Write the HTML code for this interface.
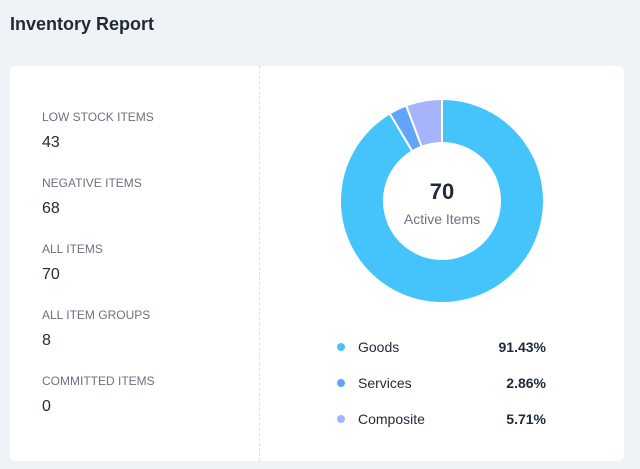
<!DOCTYPE html>
<html><head><style>
body{margin:0;width:640px;height:469px;background:#eff2f7;font-family:"Liberation Sans",sans-serif;position:relative;overflow:hidden}
.t{position:absolute;left:10px;top:14px;font-size:18px;font-weight:bold;color:#1f2937}
.card{position:absolute;left:10px;top:66px;width:614px;height:395px;background:#fff;border-radius:6px}
.div{position:absolute;left:249px;top:0;height:395px;border-left:1px dashed #dde1e7}
.lab{position:absolute;left:32px;font-size:12px;color:#6b7280}
.val{position:absolute;left:32px;font-size:16px;color:#1f2937}
.lg{position:absolute;font-size:14px;color:#1f2937}
.dot{position:absolute;width:8px;height:8px;border-radius:50%}
.pc{position:absolute;right:78px;font-size:14px;font-weight:bold;color:#1f2937}
</style></head><body>
<div class="t">Inventory Report</div>
<div class="card"><div class="div"></div>
<div class="lab" style="top:44px">LOW STOCK ITEMS</div><div class="val" style="top:68px">43</div>
<div class="lab" style="top:110px">NEGATIVE ITEMS</div><div class="val" style="top:134px">68</div>
<div class="lab" style="top:176px">ALL ITEMS</div><div class="val" style="top:200px">70</div>
<div class="lab" style="top:242px">ALL ITEM GROUPS</div><div class="val" style="top:266px">8</div>
<div class="lab" style="top:308px">COMMITTED ITEMS</div><div class="val" style="top:332px">0</div>
<div class="dot" style="left:327px;top:277px;background:#45c3fb"></div><div class="lg" style="left:348px;top:273px">Goods</div><div class="pc" style="top:273px">91.43%</div>
<div class="dot" style="left:327px;top:313px;background:#60a5fa"></div><div class="lg" style="left:348px;top:309px">Services</div><div class="pc" style="top:309px">2.86%</div>
<div class="dot" style="left:327px;top:349px;background:#a5b4fc"></div><div class="lg" style="left:348px;top:345px">Composite</div><div class="pc" style="top:345px">5.71%</div>
</div>
<svg width="640" height="469" style="position:absolute;left:0;top:0">
<g stroke="#fff" stroke-width="2" stroke-linejoin="round">
<path fill="#45c3fb" d="M442,99 A102,102 0 1 1 389.70,113.42 L412.26,151.20 A58,58 0 1 0 442,143 Z"/>
<path fill="#60a5fa" d="M389.70,113.42 A102,102 0 0 1 406.20,105.49 L421.64,146.69 A58,58 0 0 0 412.26,151.20 Z"/>
<path fill="#a5b4fc" d="M406.20,105.49 A102,102 0 0 1 442,99 L442,143 A58,58 0 0 0 421.64,146.69 Z"/>
</g>
<text x="442" y="199" text-anchor="middle" font-size="22" font-weight="bold" fill="#1f2937" font-family="Liberation Sans">70</text>
<text x="442" y="224" text-anchor="middle" font-size="14" fill="#6b7280" font-family="Liberation Sans">Active Items</text>
</svg>
</body></html>
